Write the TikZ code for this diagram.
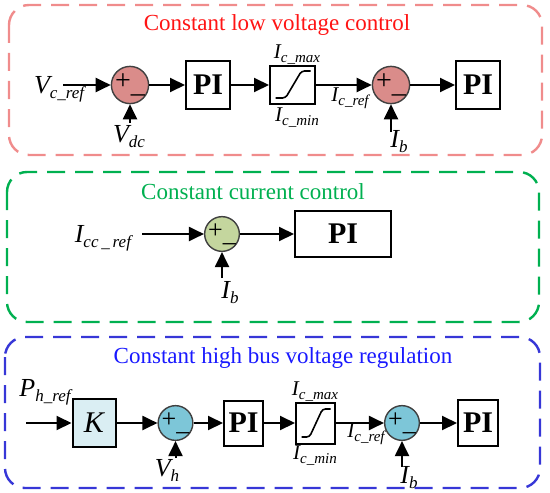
\documentclass[tikz,border=0pt]{standalone}
\usepackage{fontspec}
\setmainfont{Liberation Serif}
\usetikzlibrary{arrows.meta}

\definecolor{lowred}{RGB}{240,140,140}
\definecolor{titlered}{RGB}{255,20,20}
\definecolor{sumred}{RGB}{218,140,138}
\definecolor{ccgreen}{RGB}{0,176,80}
\definecolor{sumgreen}{RGB}{196,214,158}
\definecolor{hbblue}{RGB}{55,55,215}
\definecolor{titleblue}{RGB}{25,25,255}
\definecolor{sumblue}{RGB}{125,198,216}
\definecolor{kblue}{RGB}{218,238,243}

% signal labels: big and small
\newcommand{\sigA}[2]{\fontsize{13}{14}\selectfont\itshape #1\raisebox{-2.5pt}{\fontsize{8.5}{10}\selectfont #2}}
\newcommand{\sigB}[2]{\fontsize{10.5}{12}\selectfont\itshape #1\raisebox{-2pt}{\fontsize{7.5}{8}\selectfont #2}}
\newcommand{\plusminus}{{+}\raisebox{-1.5pt}{\_}}

\tikzset{
  frame/.style={dashed, dash pattern=on 9pt off 5pt, line width=1.2pt, rounded corners=10pt},
  title/.style={font=\fontsize{11.5}{13}\selectfont},
  pibox/.style={draw, line width=1pt, inner sep=0pt, font=\fontsize{15}{15}\selectfont\bfseries},
  satbox/.style={draw, line width=1pt, inner sep=0pt},
  sumnode/.style={circle, draw=black!75, line width=0.7pt, inner sep=0pt, font=\fontsize{13}{13}\selectfont},
  sig/.style={inner sep=1pt},
}

\begin{document}
\begin{tikzpicture}[x=0.5pt, y=-0.5pt, >={Triangle[length=7.5pt,width=7pt]}, line width=1pt]
    \useasboundingbox (0,0) rectangle (550,492);
    % 边框
    \draw[frame, lowred] (9,5) rectangle (542,155);
    \draw[frame, ccgreen] (7,172) rectangle (539,322);
    \draw[frame, hbblue] (5,337) rectangle (540,488);
    \node[title, text=titlered] (t1) at (277,25) {Constant low voltage control};
    \node[title, text=ccgreen] (t2) at (253,192) {Constant current control};
    \node[title, text=titleblue] (t3) at (283,358) {Constant high bus voltage regulation};

    % Constant low voltage control
    \coordinate (vin) at (63,85);
    \node[sig, anchor=west] (vref) at (31,89) {\sigA{V}{c\_ref}};
    \node[sumnode, fill=sumred, minimum size=17.5pt, font=\fontsize{14}{14}\selectfont] (s1) at (130,85) {\plusminus};
    \coordinate (vdcin) at (130,123);
    \node[sig] (vdc) at (129,137) {\sigA{V}{dc}};
    \node[pibox, minimum width=22pt, minimum height=23.5pt] (p1) at (208,85) {PI};
    \node[satbox, minimum width=22.5pt, minimum height=19pt] (l1) at (292.5,85) {};
    \draw[line width=0.8pt, rounded corners=1.5pt] (l1.center) ++(-17,13) -- ++(10,0) -- ++(16,-27) -- ++(9,0);
    \node[sig] (imax1) at (297,55) {\sigB{I}{c\_max}};
    \node[sig] (imin1) at (297,118) {\sigB{I}{c\_min}};
    \node[sig] (iref1) at (350,98) {\sigB{I}{c\_ref}};
    \node[sumnode, fill=sumred, minimum size=17.5pt, font=\fontsize{14}{14}\selectfont] (s2) at (391,85) {\plusminus};
    \coordinate (ibin1) at (391,132);
    \node[sig] (ib1) at (399,142) {\sigA{I}{b}};
    \node[pibox, minimum width=22pt, minimum height=23.5pt] (p2) at (478,85) {PI};
    \draw[->] (vin) -- (s1);
    \draw[->] (vdcin) -- (s1);
    \draw[->] (s1) -- (p1);
    \draw[->] (p1) -- (l1);
    \draw[->] (l1) -- (s2);
    \draw[->] (ibin1) -- (s2);
    \draw[->] (s2) -- (p2);

    % Constant current control
    \coordinate (iccin) at (142,234);
    \node[sig, anchor=east] (iccref) at (134,238) {\sigA{I}{cc\,\_\,ref}};
    \node[sumnode, fill=sumgreen, minimum size=16pt] (s3) at (222,234) {\plusminus};
    \coordinate (ibin2) at (222,278);
    \node[sig] (ib2) at (230,293) {\sigA{I}{b}};
    \node[pibox, minimum width=48pt, minimum height=23pt] (p3) at (343,234) {PI};
    \draw[->] (iccin) -- (s3);
    \draw[->] (ibin2) -- (s3);
    \draw[->] (s3) -- (p3);

    % Constant high bus voltage regulation
    \coordinate (phin) at (26,423);
    \node[sig] (phref) at (45,392) {\sigA{P}{h\_ref}};
    \node[draw, line width=1pt, fill=kblue, inner sep=0pt, minimum width=21.5pt, minimum height=24pt, font=\fontsize{15}{15}\selectfont\itshape] (k) at (94,423) {K};
    \node[sumnode, fill=sumblue, minimum size=16pt] (s4) at (175.5,423) {\plusminus};
    \coordinate (vhin) at (175.5,458);
    \node[sig] (vh) at (167,470) {\sigA{V}{h}};
    \node[pibox, minimum width=19.5pt, minimum height=22.5pt] (p4) at (243.5,423) {PI};
    \node[satbox, minimum width=19.5pt, minimum height=20.5pt] (l2) at (315.5,423) {};
    \draw[line width=0.8pt, rounded corners=1.5pt] (l2.center) ++(-14,14) -- ++(8,0) -- ++(13,-28) -- ++(8,0);
    \node[sig] (imax2) at (315,392) {\sigB{I}{c\_max}};
    \node[sig] (imin2) at (315,456) {\sigB{I}{c\_min}};
    \node[sig] (iref2) at (366,434) {\sigB{I}{c\_ref}};
    \node[sumnode, fill=sumblue, minimum size=16pt] (s5) at (402,423) {\plusminus};
    \coordinate (ibin3) at (402,467);
    \node[sig] (ib3) at (409,478) {\sigA{I}{b}};
    \node[pibox, minimum width=20pt, minimum height=23pt] (p5) at (478,423) {PI};
    \draw[->] (phin) -- (k);
    \draw[->] (k) -- (s4);
    \draw[->] (vhin) -- (s4);
    \draw[->] (s4) -- (p4);
    \draw[->] (p4) -- (l2);
    \draw[->] (l2) -- (s5);
    \draw[->] (ibin3) -- (s5);
    \draw[->] (s5) -- (p5);
\end{tikzpicture}
\end{document}
